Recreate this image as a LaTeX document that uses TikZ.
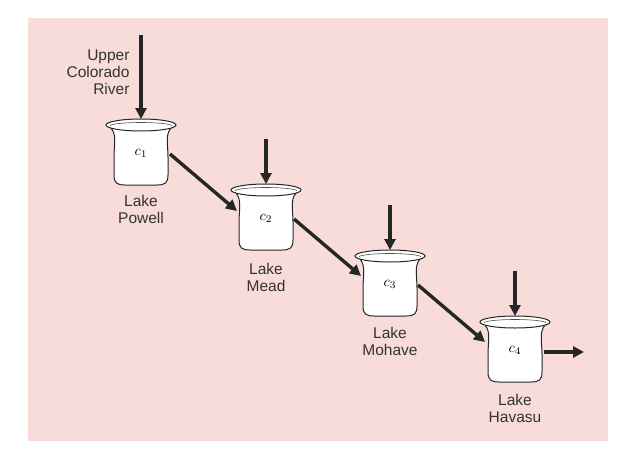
\documentclass[tikz,border=0pt]{standalone}
\usepackage{fontspec}
\setmainfont{Liberation Sans}
\usetikzlibrary{arrows.meta}
\definecolor{bg}{RGB}{248,220,218}
\begin{document}
\begin{tikzpicture}[x=1pt,y=-1pt,
  flow/.style={line width=3.4pt,-{Triangle[length=11pt,width=11pt]},draw=black!85},
  lbl/.style={font=\fontsize{15.5}{19}\selectfont,align=center,text=black!80},
  pics/beaker/.style args={#1}{code={
    \path[draw=black!85,fill=white,line width=1pt]
      (-30,3) .. controls (-24,10) and (-27,20) .. (-27,32)
      -- (-27,50) .. controls (-27,58) and (-24,60) .. (-16,60)
      -- (16,60) .. controls (24,60) and (27,58) .. (27,50)
      -- (27,32) .. controls (27,20) and (24,10) .. (30,3);
    \path[draw=black!85,fill=white,line width=1pt] (0,0) ellipse [x radius=35,y radius=6];
    \draw[black!70,line width=0.6pt] (-31,1) arc[start angle=180,end angle=360,x radius=31,y radius=3.5];
    \node at (0,28) {\scalebox{1.45}{#1}};
  }}]
\useasboundingbox (0,0) rectangle (636,460);
\fill[white] (0,0) rectangle (636,460);
\fill[bg] (28,18) rectangle (608,441);
\pic at (141,125) {beaker={$c_1$}};
\pic at (266,190) {beaker={$c_2$}};
\pic at (390,256) {beaker={$c_3$}};
\pic at (515,322) {beaker={$c_4$}};
\node[minimum width=58pt,minimum height=56pt,inner sep=0] (b1) at (141,158) {};
\node[minimum width=58pt,minimum height=56pt,inner sep=0] (b2) at (266,223) {};
\node[minimum width=58pt,minimum height=56pt,inner sep=0] (b3) at (390,289) {};
\node[minimum width=58pt,minimum height=56pt,inner sep=0] (b4) at (515,355) {};
\coordinate (r1) at (141,119);
\coordinate (r2) at (266,184);
\coordinate (r3) at (390,250);
\coordinate (r4) at (515,316);
\coordinate (s1) at (141,35);
\coordinate (s2) at (266,139);
\coordinate (s3) at (390,205);
\coordinate (s4) at (515,271);
\coordinate (out) at (584,352);
\node[lbl,align=right,anchor=east] (ucr) at (133,72) {Upper\\[-2pt]Colorado\\[-2pt]River};
\node[lbl] (l1) at (141,209) {Lake\\[-2pt]Powell};
\node[lbl] (l2) at (266,277) {Lake\\[-2pt]Mead};
\node[lbl] (l3) at (390,341) {Lake\\[-2pt]Mohave};
\node[lbl] (l4) at (515,408) {Lake\\[-2pt]Havasu};
\draw[flow] (s1) -- (r1);
\draw[flow] (s2) -- (r2);
\draw[flow] (s3) -- (r3);
\draw[flow] (s4) -- (r4);
\draw[flow] (170,154) -- (237,211);
\draw[flow] (294,219) -- (361,276);
\draw[flow] (418,285) -- (485,342);
\draw[flow] (b4.east |- out) -- (out);
\end{tikzpicture}
\end{document}
